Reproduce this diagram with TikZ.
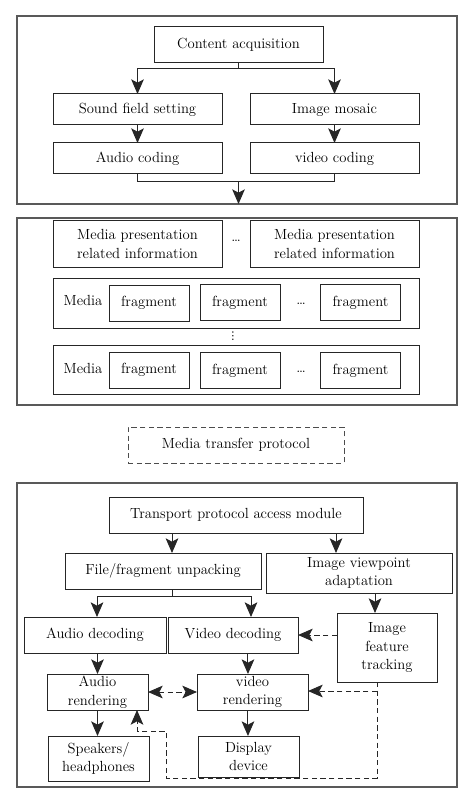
\documentclass[tikz,border=0pt]{standalone}
\usepackage{fontspec}
\newfontfamily\dejavu{DejaVu Sans}
\usetikzlibrary{arrows.meta}
\begin{document}
\begin{tikzpicture}[x=0.75pt,y=0.75pt,yscale=-1,xscale=1,
	>={Stealth[length=11pt,width=9.5pt,inset=2.5pt]},
	every node/.style={font=\fontsize{11}{14}\selectfont, text=black},
	blk/.style={draw=black!85, line width=0.75pt, inner sep=0pt, outer sep=0pt, align=center},
	outerbox/.style={draw=black!65, line width=0.9pt, inner sep=0pt, outer sep=0pt},
	dashbox/.style={blk, draw=black!70, dash pattern=on 4pt off 2.5pt},
	ln/.style={draw=black!85, line width=0.75pt},
	arr/.style={ln, ->},
	dasharr/.style={arr, dash pattern=on 4pt off 2.5pt}]
	\useasboundingbox (0,0) rectangle (474,805);
	
	%Outer frames
	\node [outerbox, minimum width=330pt, minimum height=141pt] (fr1) at (237,110) {};
	\node [outerbox, minimum width=330pt, minimum height=140.25pt] (fr2) at (237,311.5) {};
	\node [outerbox, minimum width=330pt, minimum height=228pt] (fr3) at (237,635) {};
	
	%Acquisition and coding
	\node [blk, minimum width=126.75pt, minimum height=27pt] (acq) at (238.5,45) {Content acquisition};
	\node [blk, minimum width=126.75pt, minimum height=23.25pt] (sfs) at (137.5,109.5) {Sound field setting};
	\node [blk, minimum width=126.75pt, minimum height=23.25pt] (mos) at (334.5,109.5) {Image mosaic};
	\node [blk, minimum width=126.75pt, minimum height=23.25pt] (acod) at (137.5,158.5) {Audio coding};
	\node [blk, minimum width=126.75pt, minimum height=23.25pt] (vcod) at (334.5,158.5) {video coding};
	
	%Straight Lines
	\draw [ln] (acq.south) -- ++(0,6) coordinate (sp1);
	\draw [arr] (sp1) -| (sfs.north);
	\draw [arr] (sp1) -| (mos.north);
	\draw [arr] (sfs) -- (acod);
	\draw [arr] (mos) -- (vcod);
	\draw [ln] (acod.south) -- ++(0,8) -| (vcod.south);
	\coordinate (jn1) at (238.5,182);
	\draw [arr] (jn1) -- (jn1 |- fr1.south);
	
	%Media presentation
	\node [blk, minimum width=126.75pt, minimum height=34.5pt] (mpr1) at (137.5,244) {Media presentation\\related information};
	\node (dt1) at (236,241) {\dots};
	\node [blk, minimum width=126.75pt, minimum height=34.5pt] (mpr2) at (334.5,244) {Media presentation\\related information};
	
	%Media rows
	\node [blk, minimum width=274.5pt, minimum height=37.5pt] (med1) at (236,303) {};
	\node (ml1) at (83,300) {Media};
	\node [blk, minimum width=60pt, minimum height=27pt] (fg11) at (149,303) {fragment};
	\node [blk, minimum width=60pt, minimum height=27pt] (fg12) at (240,302.5) {fragment};
	\node (dt2) at (301,304) {\dots};
	\node [blk, minimum width=60pt, minimum height=27pt] (fg13) at (360.5,302.5) {fragment};
	\node [inner sep=0pt] (vd1) at (233,336) {\dejavu\fontsize{8}{8}\selectfont ⋮};
	\node [blk, minimum width=274.5pt, minimum height=36.75pt] (med2) at (236,369.5) {};
	\node (ml2) at (83,368) {Media};
	\node [blk, minimum width=60pt, minimum height=27pt] (fg21) at (149,370) {fragment};
	\node [blk, minimum width=60pt, minimum height=27pt] (fg22) at (240,370.5) {fragment};
	\node (dt3) at (301,372) {\dots};
	\node [blk, minimum width=60pt, minimum height=27pt] (fg23) at (360.5,370.5) {fragment};
	
	%Transfer
	\node [dashbox, minimum width=162pt, minimum height=27pt] (mtp) at (236,445) {Media transfer protocol};
	
	%Receiving side
	\node [blk, minimum width=190.5pt, minimum height=27pt] (tpam) at (236,515) {Transport protocol access module};
	\node [blk, minimum width=147pt, minimum height=27pt] (ffu) at (163,571) {File/fragment unpacking};
	\node [blk, minimum width=139.5pt, minimum height=30pt] (iva) at (359,573) {Image viewpoint\\adaptation};
	\node [blk, minimum width=106.5pt, minimum height=27pt] (adec) at (95,635) {Audio decoding};
	\node [blk, minimum width=97.5pt, minimum height=27pt] (vdec) at (233,635) {Video decoding};
	\node [blk, minimum width=75pt, minimum height=51.75pt] (ift) at (387,647.5) {Image\\feature\\tracking};
	\node [blk, minimum width=75.75pt, minimum height=27pt] (aren) at (97.5,692) {Audio\\rendering};
	\node [blk, minimum width=83.25pt, minimum height=27pt] (vren) at (252.5,692) {video\\rendering};
	\node [blk, minimum width=75.75pt, minimum height=33.75pt] (spk) at (98.5,758.5) {Speakers/\\headphones};
	\node [blk, minimum width=75.75pt, minimum height=30.75pt] (disp) at (248.5,756.5) {Display\\device};
	
	%Straight Lines
	\draw [arr] ([xshift=6.75pt]ffu.north |- tpam.south) -- ([xshift=6.75pt]ffu.north);
	\draw [arr] ([xshift=-17.25pt]iva.north |- tpam.south) -- ([xshift=-17.25pt]iva.north);
	\draw [arr] ([xshift=12pt]iva.south) -- ([xshift=12pt]iva.south |- ift.north);
	\draw [ln] ([xshift=6.75pt]ffu.south) -- ++(0,7) coordinate (sp2);
	\draw [arr] (sp2) -| ([xshift=1.5pt]adec.north);
	\draw [arr] (sp2) -| ([xshift=13.5pt]vdec.north);
	\draw [arr] (aren.north |- adec.south) -- (aren.north);
	\draw [arr] ([xshift=-3.4pt]vren.north |- vdec.south) -- ([xshift=-3.4pt]vren.north);
	\draw [arr] (aren.south) -- (aren.south |- spk.north);
	\draw [arr] ([xshift=-3.4pt]vren.south) -- ([xshift=-3.4pt]vren.south |- disp.north);
	
	%Dashed Lines
	\draw [dasharr] (ift.west |- vdec.east) -- (vdec.east);
	\draw [dasharr, <->] (aren.east) -- (vren.west);
	\coordinate (fb1) at (377,778);
	\coordinate (fb2) at (166,778);
	\coordinate (fb3) at (166,731);
	\coordinate (fb4) at (137,731);
	\coordinate (fb5) at (377,691);
	\draw [dasharr] (ift.south -| fb1) -- (fb1) -- (fb2) -- (fb3) -- (fb4) -- (fb4 |- aren.south);
	\draw [dasharr] (fb5) -- (fb5 -| vren.east);
\end{tikzpicture}
\end{document}
